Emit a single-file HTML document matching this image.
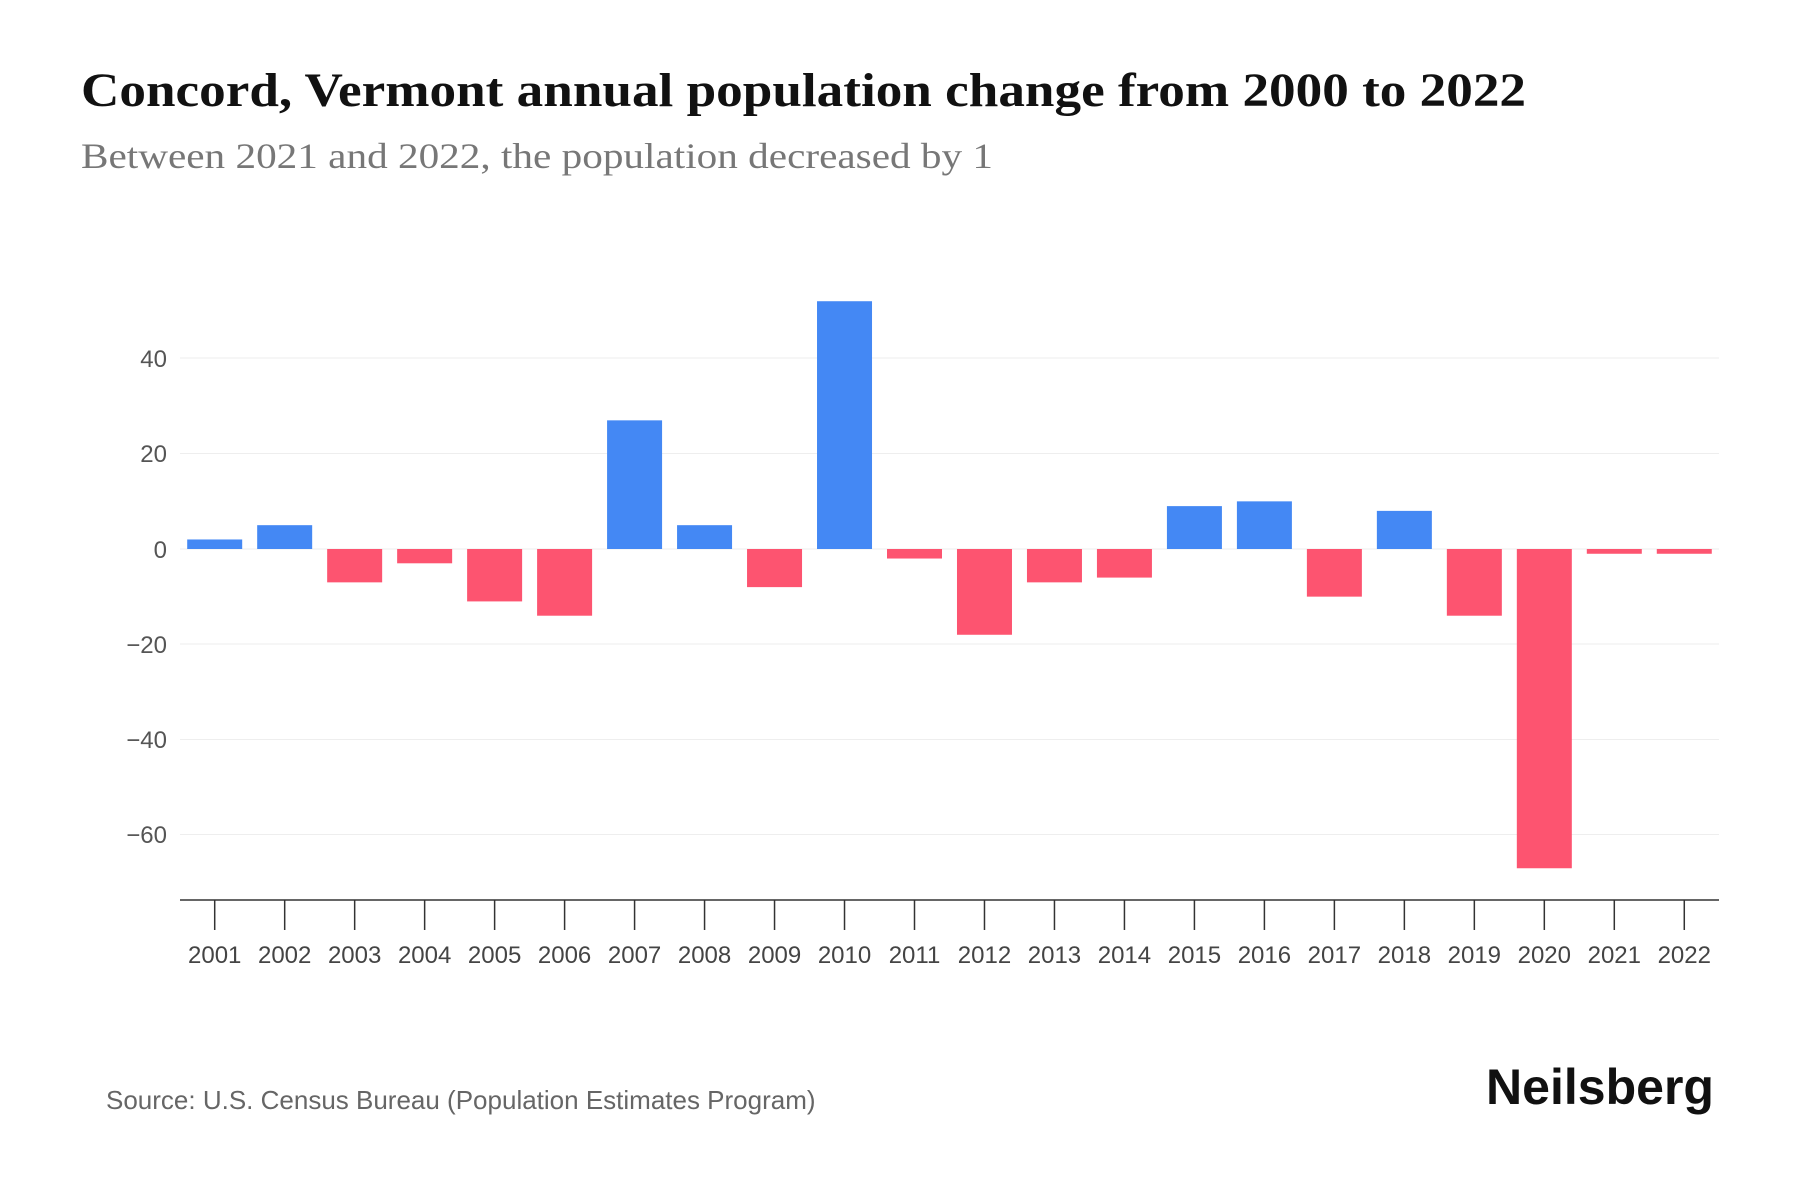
<!DOCTYPE html>
<html><head><meta charset="utf-8"><style>
html,body{margin:0;padding:0;background:#fff;}
svg{display:block;}
</style></head><body>
<svg width="1800" height="1200" viewBox="0 0 1800 1200" xmlns="http://www.w3.org/2000/svg">
<text x="81" y="106" font-family="Liberation Serif, serif" font-weight="bold" font-size="48" fill="#111" textLength="1445" lengthAdjust="spacingAndGlyphs">Concord, Vermont annual population change from 2000 to 2022</text>
<text x="81" y="168" font-family="Liberation Serif, serif" font-size="36" fill="#777" textLength="912" lengthAdjust="spacingAndGlyphs">Between 2021 and 2022, the population decreased by 1</text>
<g stroke="#eee" stroke-width="1">
<line x1="180" y1="358" x2="1719" y2="358"/>
<line x1="180" y1="453.5" x2="1719" y2="453.5"/>
<line x1="180" y1="549" x2="1719" y2="549"/>
<line x1="180" y1="644" x2="1719" y2="644"/>
<line x1="180" y1="739.5" x2="1719" y2="739.5"/>
<line x1="180" y1="834.5" x2="1719" y2="834.5"/>
</g>
<g font-family="Liberation Sans, sans-serif" font-size="24" fill="#555" text-anchor="end">
<text x="167" y="367">40</text>
<text x="167" y="462">20</text>
<text x="167" y="558">0</text>
<text x="167" y="653">−20</text>
<text x="167" y="748">−40</text>
<text x="167" y="843">−60</text>
</g>
<line x1="180" y1="900" x2="1719" y2="900" stroke="#333" stroke-width="1.5"/>
<g id="bars"></g>
<g id="ticks" stroke="#333" stroke-width="1.5"></g>
<g id="labels" font-family="Liberation Sans, sans-serif" font-size="24" fill="#444" text-anchor="middle"></g>
<text x="106" y="1109" font-family="Liberation Sans, sans-serif" font-size="26" fill="#666">Source: U.S. Census Bureau (Population Estimates Program)</text>
<text x="1714" y="1104" font-family="Liberation Sans, sans-serif" font-weight="bold" font-size="50" fill="#111" text-anchor="end" textLength="228" lengthAdjust="spacingAndGlyphs">Neilsberg</text>
<script>
var v=[2,5,-7,-3,-11,-14,27,5,-8,52,-2,-18,-7,-6,9,10,-10,8,-14,-67,-1,-1];
var ns="http://www.w3.org/2000/svg",b=document.getElementById("bars"),t=document.getElementById("ticks"),l=document.getElementById("labels");
var z=549,u=4.765,w=55;
v.forEach(function(d,i){var cx=214.7+i*69.98;
var r=document.createElementNS(ns,"rect");r.setAttribute("x",cx-w/2);r.setAttribute("width",w);
var h=Math.abs(d)*u;r.setAttribute("y",d>=0?z-h:z);r.setAttribute("height",h);
r.setAttribute("fill",d>=0?"#4488f4":"#fd5470");b.appendChild(r);
var k=document.createElementNS(ns,"line");k.setAttribute("x1",cx);k.setAttribute("x2",cx);k.setAttribute("y1",900);k.setAttribute("y2",930);t.appendChild(k);
var s=document.createElementNS(ns,"text");s.setAttribute("x",cx);s.setAttribute("y",963);s.textContent=2001+i;l.appendChild(s);});
</script>
</svg>
</body></html>
